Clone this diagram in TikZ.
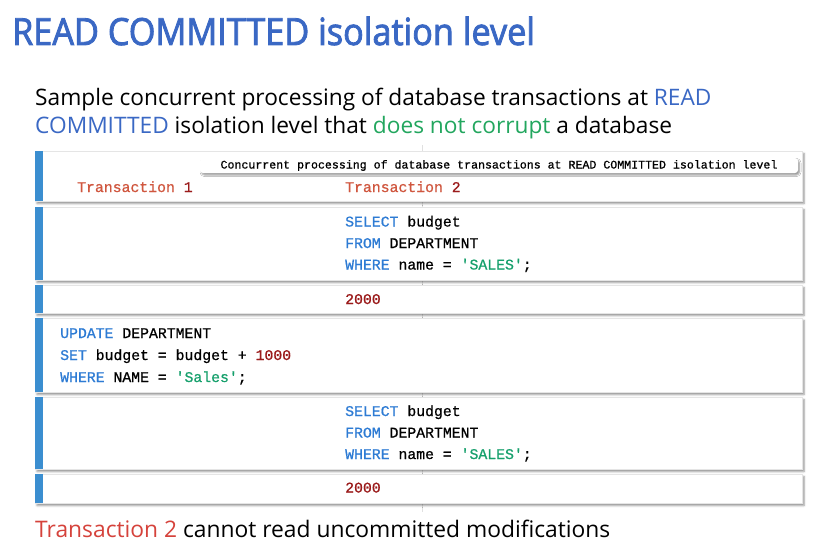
\documentclass[tikz,border=0pt]{standalone}
\usepackage{fontspec}
\setmainfont{Open Sans}
\setmonofont{Liberation Mono}[FakeBold=0.8]
\newfontfamily\titlefont{Open Sans}[FakeBold=2.2, FakeStretch=0.915]
\usepackage{tikz}
\usetikzlibrary{shadows.blur}

\definecolor{titleblue}{HTML}{3A68C4}
\definecolor{okgreen}{HTML}{22A65E}
\definecolor{notered}{HTML}{D5423B}
\definecolor{barblue}{HTML}{3B8ED0}
\definecolor{kwblue}{HTML}{2D7BD4}
\definecolor{strgreen}{HTML}{16A06C}
\definecolor{numred}{HTML}{9B1B1B}
\definecolor{idred}{HTML}{D0573F}

\newcommand{\sqlkw}[1]{\textcolor{kwblue}{#1}}
\newcommand{\sqlstr}[1]{\textcolor{strgreen}{#1}}
\newcommand{\sqlnum}[1]{\textcolor{numred}{#1}}
\newcommand{\sqlid}[1]{\textcolor{idred}{#1}}

\tikzset{
    rowbox/.style={fill=white, draw=black!10, line width=0.4pt,
        blur shadow={shadow xshift=2pt, shadow yshift=-2.5pt, shadow blur radius=2pt, shadow opacity=45}},
    tab/.style={fill=white, rounded corners=3pt,
        blur shadow={shadow xshift=1.5pt, shadow yshift=-2pt, shadow blur radius=1.5pt, shadow opacity=40}},
    code/.style={anchor=base west, inner sep=0pt, font=\fontsize{14.8}{18}\ttfamily},
    prose/.style={anchor=base west, inner sep=0pt, font=\fontsize{22.7}{27}\selectfont}
}

\begin{document}
\begin{tikzpicture}[x=1pt, y=-1pt]
            \useasboundingbox (0,0) rectangle (830,551);
            \pgfmathsetmacro{\xl}{35}
            \pgfmathsetmacro{\xr}{802}
            \pgfmathsetmacro{\colone}{60}
            \pgfmathsetmacro{\coltwo}{345}
            % faint table rule behind the rows
            \draw[black!12] (422,145) -- (422,512);
            \foreach \top/\bot in {151/201, 207/280, 285/313, 318/392, 397/469, 474/503} {
                \path[rowbox] (\xl,\top) rectangle (\xr,\bot);
                \fill[barblue] (\xl,\top) rectangle (\xl+8,\bot);
            }
            \path[tab] (200,158) rectangle (798,173);
            \node[inner sep=0pt, font=\fontsize{11.6}{14}\ttfamily] (caption) at (499,165.5)
                {Concurrent processing of database transactions at READ COMMITTED isolation level};

            \node[anchor=base west, inner sep=0pt, font=\fontsize{37.4}{40}\titlefont, text=titleblue] (title) at (12,45)
                {READ COMMITTED isolation level};
            \node[prose] (intro1) at (35,106)
                {Sample concurrent processing of database transactions at \textcolor{titleblue}{READ}};
            \node[prose] (intro2) at (35,133)
                {\textcolor{titleblue}{COMMITTED} isolation level that \textcolor{okgreen}{does not corrupt} a database};

            \node[code] (tone) at (77,192) {\sqlid{Transaction} \sqlnum{1}};
            \node[code] (ttwo) at (\coltwo,192) {\sqlid{Transaction} \sqlnum{2}};

            \node[code] (selecta) at (\coltwo,226.5) {\sqlkw{SELECT} budget};
            \node[code] (froma) at (\coltwo,248) {\sqlkw{FROM} DEPARTMENT};
            \node[code] (wherea) at (\coltwo,269.5) {\sqlkw{WHERE} name = \sqlstr{'SALES'};};
            \node[code] (reada) at (\coltwo,304) {\sqlnum{2000}};

            \node[code] (update) at (\colone,338) {\sqlkw{UPDATE} DEPARTMENT};
            \node[code] (set) at (\colone,360) {\sqlkw{SET} budget = budget + \sqlnum{1000}};
            \node[code] (whereu) at (\colone,382) {\sqlkw{WHERE} NAME = \sqlstr{'Sales'};};

            \node[code] (selectb) at (\coltwo,416) {\sqlkw{SELECT} budget};
            \node[code] (fromb) at (\coltwo,437.5) {\sqlkw{FROM} DEPARTMENT};
            \node[code] (whereb) at (\coltwo,459) {\sqlkw{WHERE} name = \sqlstr{'SALES'};};
            \node[code] (readb) at (\coltwo,492.5) {\sqlnum{2000}};

            \node[anchor=base west, inner sep=0pt, font=\fontsize{22.8}{27}\selectfont] (verdict) at (35,537)
                {\textcolor{notered}{Transaction 2} cannot read uncommitted modifications};
\end{tikzpicture}
\end{document}
